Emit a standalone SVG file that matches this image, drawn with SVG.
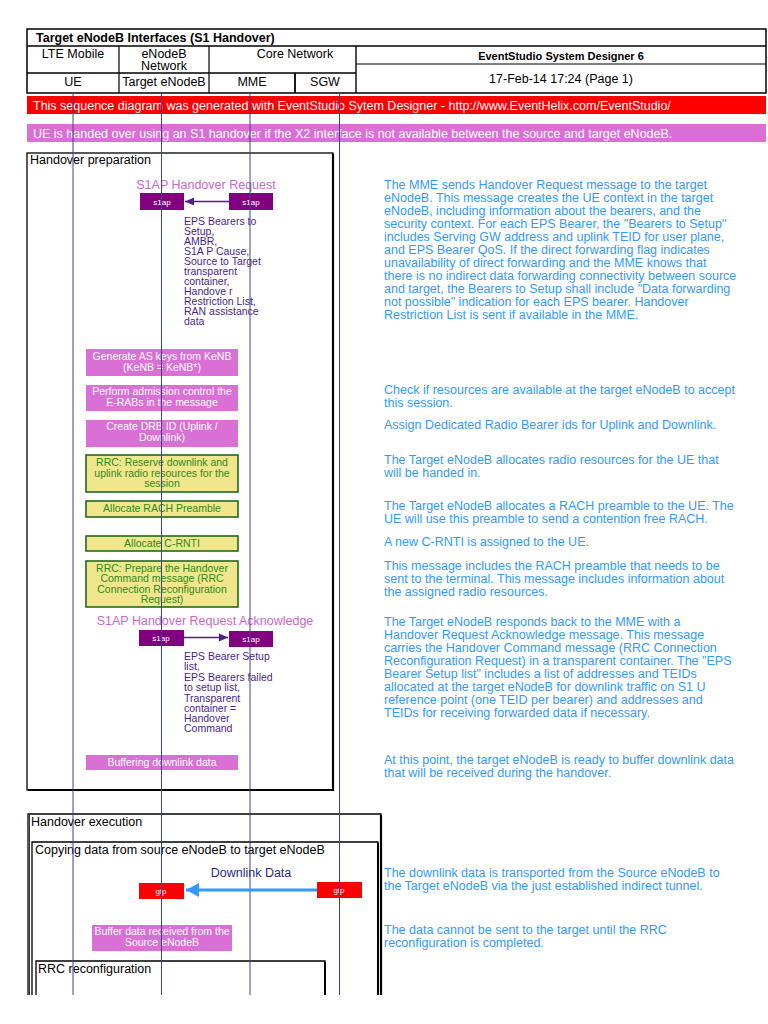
<svg xmlns="http://www.w3.org/2000/svg" width="768" height="1024" viewBox="0 0 768 1024">
<defs>
<style>
text{font-family:"Liberation Sans",Arial,sans-serif}
.hdr{font-size:12.5px;fill:#000}
.frame{fill:none;stroke:#000;stroke-width:1.3}
.shadow{fill:none;stroke:#000;stroke-width:2.2}
.flbl{font-size:12.5px;fill:#000}
.ab{fill:#da70d6}
.abt{font-size:10.5px;fill:#fff;text-anchor:middle}
.yb{fill:#f0e68c;stroke:#1f6b1f;stroke-width:1.6}
.ybt{font-size:10.5px;fill:#2e8b22;text-anchor:middle}
.rem{font-size:12.5px;fill:#3399ff}
.par{font-size:10.5px;fill:#4c1f8f}
.mlbl{font-size:12.5px;fill:#cc66cc;text-anchor:middle}
.s1{fill:#800080}
.gtp{fill:#ff0000}
.pt{font-size:8px;fill:#fff;text-anchor:middle}
.life{stroke:#404090;stroke-width:1}
</style>
<marker id="ahP" markerWidth="10" markerHeight="10" refX="9" refY="5" orient="auto" markerUnits="userSpaceOnUse"><path d="M0,1 L9,5 L0,9 Z" fill="#4c1f8f"/></marker>
<marker id="ahB" markerWidth="14" markerHeight="14" refX="13" refY="7" orient="auto" markerUnits="userSpaceOnUse"><path d="M0,0 L13,7 L0,14 Z" fill="#3399ff"/></marker>
</defs>
<rect width="768" height="1024" fill="#fff"/>

<g id="header">
<rect x="27" y="29" width="739" height="64" fill="#fff" stroke="#000" stroke-width="1.5"/>
<line x1="27" y1="46" x2="766" y2="46" stroke="#000" stroke-width="1.6"/>
<line x1="119" y1="46" x2="119" y2="93" stroke="#000" stroke-width="1.2"/>
<line x1="209" y1="46" x2="209" y2="93" stroke="#000" stroke-width="1.2"/>
<line x1="356" y1="46" x2="356" y2="93" stroke="#000" stroke-width="1.4"/>
<line x1="27" y1="73" x2="356" y2="73" stroke="#000" stroke-width="1.4"/>
<line x1="295" y1="73" x2="295" y2="93" stroke="#000" stroke-width="1.8"/>
<line x1="356" y1="64" x2="766" y2="64" stroke="#000" stroke-width="1.2"/>
<text x="36" y="42" class="hdr" font-weight="bold">Target eNodeB Interfaces (S1 Handover)</text>
<text x="73" y="58" class="hdr" text-anchor="middle">LTE Mobile</text>
<text x="164" y="58" class="hdr" text-anchor="middle">eNodeB</text>
<text x="164" y="70" class="hdr" text-anchor="middle">Network</text>
<text x="295" y="58" class="hdr" text-anchor="middle">Core Network</text>
<text x="73" y="86" class="hdr" text-anchor="middle">UE</text>
<text x="164" y="86" class="hdr" text-anchor="middle">Target eNodeB</text>
<text x="252" y="86" class="hdr" text-anchor="middle">MME</text>
<text x="325" y="86" class="hdr" text-anchor="middle">SGW</text>
<text x="561" y="60" font-size="11" font-weight="bold" text-anchor="middle">EventStudio System Designer 6</text>
<text x="561" y="83" class="hdr" text-anchor="middle">17-Feb-14 17:24 (Page 1)</text>
</g>

<g id="banner-red">
<rect x="27" y="96" width="739" height="18" fill="#ff0000"/>
<text x="33" y="110" font-size="12.5" fill="#fff">This sequence diagram was generated with EventStudio Sytem Designer - http://www.EventHelix.com/EventStudio/</text>
</g>
<g id="banner-purple">
<rect x="27" y="124" width="739" height="18" fill="#da70d6"/>
<text x="33" y="138" font-size="12.5" fill="#fff">UE is handed over using an S1 handover if the X2 interface is not available between the source and target eNodeB.</text>
</g>

<g id="frame-prep">
<rect x="27" y="153" width="306" height="637" class="frame"/>
<polyline points="333,154 333,790 28,790" class="shadow"/>
<text x="30" y="164" class="flbl">Handover preparation</text>
</g>

<g id="msg-s1ap-req">
<text x="206" y="189" class="mlbl">S1AP Handover Request</text>
<rect x="140" y="193" width="44" height="17" class="s1"/>
<rect x="229" y="193" width="44" height="17" class="s1"/>
<text x="162" y="205" class="pt">s1ap</text>
<text x="251" y="205" class="pt">s1ap</text>
<text class="par"><tspan x="184" y="225">EPS Bearers to</tspan><tspan x="184" y="235">Setup,</tspan><tspan x="184" y="245">AMBR,</tspan><tspan x="184" y="255">S1A P Cause,</tspan><tspan x="184" y="265">Source to Target</tspan><tspan x="184" y="275">transparent</tspan><tspan x="184" y="285">container,</tspan><tspan x="184" y="295">Handove r</tspan><tspan x="184" y="305">Restriction List,</tspan><tspan x="184" y="315">RAN assistance</tspan><tspan x="184" y="325">data</tspan></text>
</g>

<g id="note-req">
<text class="rem"><tspan x="384" y="189">The MME sends Handover Request message to the target</tspan><tspan x="384" y="202">eNodeB. This message creates the UE context in the target</tspan><tspan x="384" y="215">eNodeB, including information about the bearers, and the</tspan><tspan x="384" y="228">security context. For each EPS Bearer, the "Bearers to Setup"</tspan><tspan x="384" y="241">includes Serving GW address and uplink TEID for user plane,</tspan><tspan x="384" y="254">and EPS Bearer QoS. If the direct forwarding flag indicates</tspan><tspan x="384" y="267">unavailability of direct forwarding and the MME knows that</tspan><tspan x="384" y="280">there is no indirect data forwarding connectivity between source</tspan><tspan x="384" y="293">and target, the Bearers to Setup shall include "Data forwarding</tspan><tspan x="384" y="306">not possible" indication for each EPS bearer. Handover</tspan><tspan x="384" y="319">Restriction List is sent if available in the MME.</tspan></text>
</g>

<g id="act-keys">
<rect x="86" y="349" width="152" height="27" class="ab"/>
<text class="abt"><tspan x="162" y="360">Generate AS keys from KeNB</tspan><tspan x="162" y="371">(KeNB = KeNB*)</tspan></text>
</g>
<g id="act-admission">
<rect x="86" y="385" width="152" height="26" class="ab"/>
<text class="abt"><tspan x="162" y="395">Perform admission control the</tspan><tspan x="162" y="406">E-RABs in the message</tspan></text>
<text x="384" y="394" class="rem">Check if resources are available at the target eNodeB to accept</text>
<text x="384" y="407" class="rem">this session.</text>
</g>
<g id="act-drb">
<rect x="86" y="420" width="152" height="27" class="ab"/>
<text class="abt"><tspan x="162" y="430">Create DRB ID (Uplink /</tspan><tspan x="162" y="441">Downlink)</tspan></text>
<text x="384" y="429" class="rem">Assign Dedicated Radio Bearer ids for Uplink and Downlink.</text>
</g>
<g id="act-rrc-reserve">
<rect x="86" y="455" width="152" height="37" class="yb"/>
<text class="ybt"><tspan x="162" y="466">RRC: Reserve downlink and</tspan><tspan x="162" y="476.5">uplink radio resources for the</tspan><tspan x="162" y="487">session</tspan></text>
<text x="384" y="464" class="rem">The Target eNodeB allocates radio resources for the UE that</text>
<text x="384" y="477" class="rem">will be handed in.</text>
</g>
<g id="act-rach">
<rect x="86" y="501" width="152" height="16" class="yb"/>
<text x="162" y="512" class="ybt">Allocate RACH Preamble</text>
<text x="384" y="510" class="rem">The Target eNodeB allocates a RACH preamble to the UE. The</text>
<text x="384" y="523" class="rem">UE will use this preamble to send a contention free RACH.</text>
</g>
<g id="act-crnti">
<rect x="86" y="536" width="152" height="15" class="yb"/>
<text x="162" y="547" class="ybt">Allocate C-RNTI</text>
<text x="384" y="546" class="rem">A new C-RNTI is assigned to the UE.</text>
</g>
<g id="act-rrc-prepare">
<rect x="86" y="561" width="152" height="46" class="yb"/>
<text class="ybt"><tspan x="162" y="572">RRC: Prepare the Handover</tspan><tspan x="162" y="582">Command message (RRC</tspan><tspan x="162" y="592.5">Connection Reconfiguration</tspan><tspan x="162" y="603">Request)</tspan></text>
<text class="rem"><tspan x="384" y="570">This message includes the RACH preamble that needs to be</tspan><tspan x="384" y="583">sent to the terminal. This message includes information about</tspan><tspan x="384" y="596">the assigned radio resources.</tspan></text>
</g>

<g id="msg-s1ap-ack">
<text x="205" y="625" class="mlbl">S1AP Handover Request Acknowledge</text>
<rect x="139" y="630" width="45" height="16" class="s1"/>
<rect x="229" y="631" width="44" height="16" class="s1"/>
<text x="161" y="641" class="pt">s1ap</text>
<text x="251" y="642" class="pt">s1ap</text>
<text class="par"><tspan x="184" y="660">EPS Bearer Setup</tspan><tspan x="184" y="670">list,</tspan><tspan x="184" y="681">EPS Bearers failed</tspan><tspan x="184" y="691">to setup list,</tspan><tspan x="184" y="702">Transparent</tspan><tspan x="184" y="712">container =</tspan><tspan x="184" y="722">Handover</tspan><tspan x="184" y="732">Command</tspan></text>
<text class="rem"><tspan x="384" y="626">The Target eNodeB responds back to the MME with a</tspan><tspan x="384" y="639">Handover Request Acknowledge message. This message</tspan><tspan x="384" y="652">carries the Handover Command message (RRC Connection</tspan><tspan x="384" y="665">Reconfiguration Request) in a transparent container. The "EPS</tspan><tspan x="384" y="678">Bearer Setup list" includes a list of addresses and TEIDs</tspan><tspan x="384" y="691">allocated at the target eNodeB for downlink traffic on S1 U</tspan><tspan x="384" y="704">reference point (one TEID per bearer) and addresses and</tspan><tspan x="384" y="717">TEIDs for receiving forwarded data if necessary.</tspan></text>
</g>

<g id="act-buffering">
<rect x="86" y="755" width="152" height="15" class="ab"/>
<text x="162" y="766" class="abt">Buffering downlink data</text>
<text x="384" y="764" class="rem">At this point, the target eNodeB is ready to buffer downlink data</text>
<text x="384" y="777" class="rem">that will be received during the handover.</text>
</g>

<g id="frame-exec">
<polyline points="28,995 28,814 381,814 381,995" class="frame"/>
<line x1="381" y1="815" x2="381" y2="995" stroke="#000" stroke-width="2.2"/>
<line x1="29.5" y1="815" x2="29.5" y2="995" stroke="#000" stroke-width="0.8"/>
<text x="31" y="826" class="flbl">Handover execution</text>
</g>
<g id="frame-copy">
<polyline points="32,995 32,842 378,842 378,995" class="frame"/>
<line x1="378" y1="843" x2="378" y2="995" stroke="#000" stroke-width="2"/>
<text x="35" y="854" class="flbl">Copying data from source eNodeB to target eNodeB</text>
</g>

<g id="msg-downlink">
<text x="251" y="877" font-size="12.5" fill="#2a2a8a" text-anchor="middle">Downlink Data</text>
<rect x="139" y="883" width="45" height="16" class="gtp"/>
<rect x="317" y="882" width="45" height="16" class="gtp"/>
<text x="161" y="894" class="pt">gtp</text>
<text x="339" y="893" class="pt">gtp</text>
<text class="rem"><tspan x="384" y="877">The downlink data is transported from the Source eNodeB to</tspan><tspan x="384" y="890">the Target eNodeB via the just established indirect tunnel.</tspan></text>
</g>

<g id="act-buffer-src">
<rect x="92" y="925" width="140" height="26" class="ab"/>
<text class="abt"><tspan x="162" y="935">Buffer data received from the</tspan><tspan x="162" y="946">Source eNodeB</tspan></text>
<text class="rem"><tspan x="384" y="934">The data cannot be sent to the target until the RRC</tspan><tspan x="384" y="947">reconfiguration is completed.</tspan></text>
</g>

<g id="frame-rrc">
<polyline points="36,995 36,961 325,961 325,995" class="frame"/>
<line x1="325" y1="962" x2="325" y2="995" stroke="#000" stroke-width="2"/>
<text x="38" y="973" class="flbl">RRC reconfiguration</text>
</g>

<g id="lifelines">
<line x1="73" y1="93" x2="73" y2="995" class="life"/>
<line x1="161.5" y1="93" x2="161.5" y2="995" class="life"/>
<line x1="250" y1="93" x2="250" y2="995" class="life"/>
<line x1="339.5" y1="93" x2="339.5" y2="995" class="life"/>
</g>

<g id="connectors">
<line x1="229" y1="201.5" x2="185" y2="201.5" stroke="#4c1f8f" stroke-width="1.5" marker-end="url(#ahP)"/>
<line x1="184" y1="637.5" x2="228" y2="637.5" stroke="#4c1f8f" stroke-width="1.5" marker-end="url(#ahP)"/>
<line x1="317" y1="890" x2="186" y2="890" stroke="#3399ff" stroke-width="3" marker-end="url(#ahB)"/>
</g>
</svg>
